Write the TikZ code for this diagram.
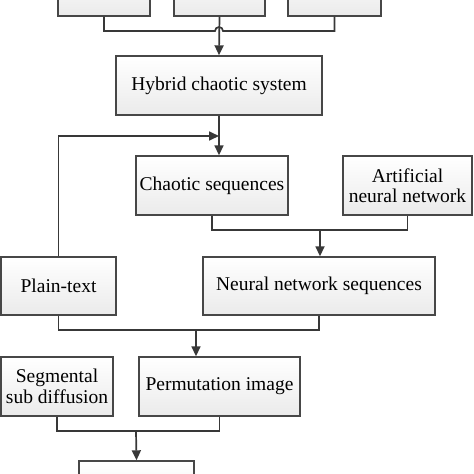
\documentclass[tikz,border=0pt]{standalone}
\usepackage{fontspec}
\setmainfont{Liberation Serif}
\usetikzlibrary{arrows.meta,positioning}

\tikzset{
    blk/.style={draw=black!72, line width=1.4pt, top color=white, bottom color=black!8,
        align=center, inner sep=2pt, minimum height=59pt,
        font=\fontsize{19.5}{20.5}\selectfont},
    lnk/.style={draw=black!78, line width=1.7pt},
    arr/.style={lnk, -{Triangle[length=10pt,width=9pt]}}
}

\begin{document}
\begin{tikzpicture}[x=1pt,y=1pt]
    \useasboundingbox (0,0) rectangle (474,-474);
    \clip (0,0) rectangle (474,-474);
    % inputs (cut off at the top)
    \node[blk, minimum width=92pt, minimum height=50pt] (in_1) at (104,9) {};
    \node[blk, minimum width=91pt, minimum height=50pt] (in_2) at (219.5,9) {};
    \node[blk, minimum width=93pt, minimum height=50pt] (in_3) at (334.5,9) {};
    \node[blk, minimum width=206pt] (hyb) at (219,-85.5) {Hybrid chaotic system};
    \node[blk, minimum width=152pt] (chs) at (212,-185.5) {Chaotic sequences};
    \node[blk, minimum width=129pt] (ann) at (407.5,-185.5) {Artificial\\neural network};
    \node[blk, minimum width=115pt, minimum height=58pt] (pt) at (58.5,-286) {Plain-text};
    \node[blk, minimum width=232pt, minimum height=58pt] (nns) at (319,-286) {Neural network sequences};
    \node[blk, minimum width=112pt] (seg) at (57,-386.5) {Segmental\\sub diffusion};
    \node[blk, minimum width=161pt] (perm) at (219.5,-386.5) {Permutation image};
    \node[blk, minimum width=115pt] (out) at (136.5,-490.5) {};

    \coordinate (hop_l) at (215,-31);
    \coordinate (fb) at (219,-136);
    \coordinate (m_1) at (320,-230);
    \coordinate (m_2) at (196,-330);
    \coordinate (m_3) at (136,-431);

    % inputs to hybrid system
    \draw[lnk] (in_1.south) |- (hop_l) arc[start angle=180, end angle=0, radius=4pt] -| (in_3.south);
    \draw[arr] (in_2.south) -- (hyb.north);
    % chaotic branch
    \draw[arr] (hyb.south) -- (hyb.south |- chs.north);
    \draw[arr] (pt.north) |- (fb);
    \draw[lnk] (chs.south) |- (m_1) -| (ann.south);
    \draw[arr] (m_1) -- (m_1 |- nns.north);
    % permutation
    \draw[lnk] (pt.south) |- (m_2) -| (nns.south);
    \draw[arr] (m_2) -- (m_2 |- perm.north);
    \draw[lnk] (seg.south) |- (m_3) -| (perm.south);
    \draw[arr] (m_3) -- (out.north);
\end{tikzpicture}
\end{document}
